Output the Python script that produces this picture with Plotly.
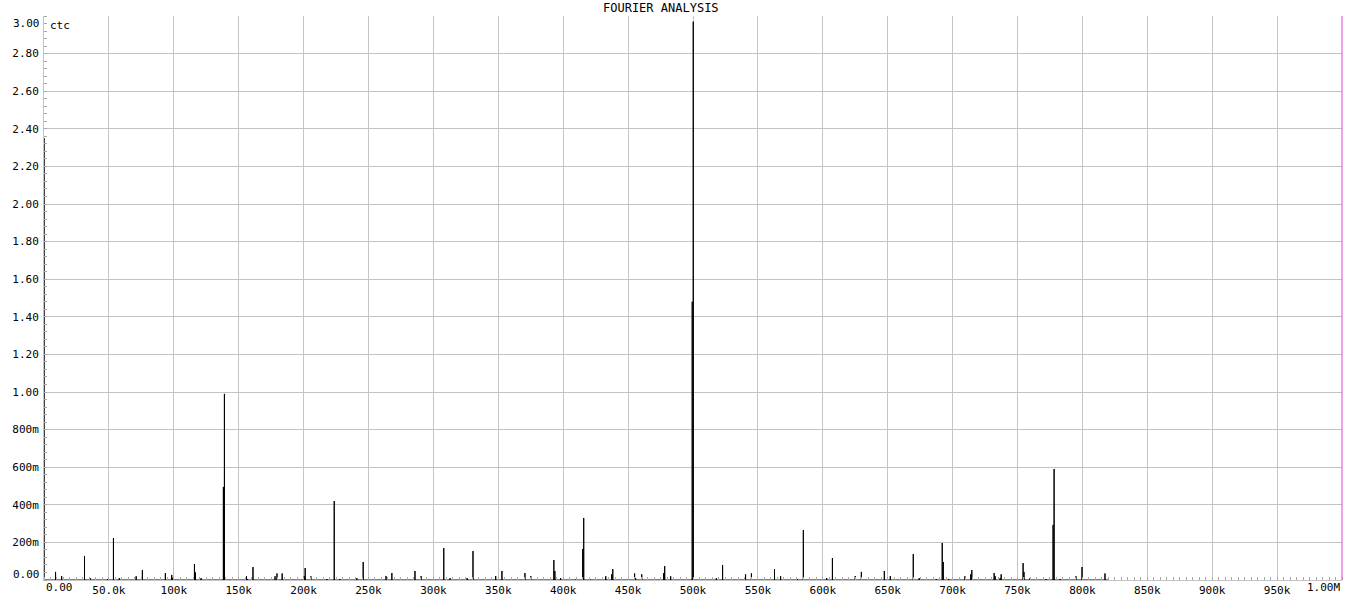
import plotly.graph_objects as go

# Spectral lines: frequency (kHz) and amplitude
freq_k = [0.0, 8.9, 13.6, 31.2, 35.6, 49.0, 53.5, 58.0, 71.0, 75.8, 93.5, 98.4, 99.2,
          115.9, 116.7, 121.0, 138.2, 139.0, 156.0, 156.8, 161.0, 178.0, 179.5, 183.5,
          200.5, 201.2, 205.6, 218.0, 223.6, 228.0, 241.0, 245.9, 263.5, 268.0, 285.8,
          290.5, 308.0, 312.8, 326.0, 330.5, 348.0, 352.8, 370.5, 375.0, 392.8, 393.6,
          398.0, 410.0, 415.0, 415.8, 420.5, 432.8, 437.4, 438.2, 455.0, 455.8, 460.5,
          477.4, 478.2, 482.8, 495.0, 499.4, 500.2, 505.0, 518.0, 522.8, 540.5, 545.0,
          562.8, 567.5, 580.5, 585.0, 603.0, 607.4, 625.0, 629.7, 647.4, 652.0, 669.7,
          674.3, 687.4, 692.0, 692.8, 697.0, 709.5, 714.0, 714.8, 732.0, 732.8, 736.6,
          737.4, 754.3, 755.0, 759.7, 772.0, 777.4, 778.2, 782.8, 795.0, 799.7, 817.4]
amplitude = [2.35, 0.043, 0.021, 0.128, 0.010, 0.005, 0.223, 0.010, 0.020, 0.053, 0.037, 0.027, 0.012,
             0.085, 0.040, 0.010, 0.495, 0.990, 0.020, 0.005, 0.069, 0.020, 0.035, 0.035,
             0.020, 0.064, 0.020, 0.005, 0.420, 0.005, 0.010, 0.096, 0.021, 0.037, 0.048,
             0.021, 0.170, 0.010, 0.010, 0.154, 0.021, 0.048, 0.037, 0.021, 0.106, 0.048,
             0.010, 0.005, 0.165, 0.330, 0.005, 0.020, 0.030, 0.058, 0.035, 0.010, 0.030,
             0.037, 0.074, 0.020, 0.005, 1.480, 2.970, 0.005, 0.010, 0.080, 0.030, 0.035,
             0.058, 0.020, 0.005, 0.266, 0.010, 0.117, 0.021, 0.043, 0.048, 0.021, 0.138,
             0.010, 0.005, 0.197, 0.096, 0.005, 0.020, 0.030, 0.053, 0.037, 0.020, 0.010,
             0.030, 0.090, 0.043, 0.010, 0.005, 0.293, 0.590, 0.005, 0.020, 0.069, 0.035]
last_bin_k = 820.0

x_tickvals_k = [i * 50 for i in range(21)]
x_ticktext = ["0.00", "50.0k", "100k", "150k", "200k", "250k", "300k", "350k", "400k",
              "450k", "500k", "550k", "600k", "650k", "700k", "750k", "800k", "850k",
              "900k", "950k", "1.00M"]
y_tickvals = [i * 0.2 for i in range(16)]
y_ticktext = ["0.00", "200m", "400m", "600m", "800m", "1.00", "1.20", "1.40", "1.60",
              "1.80", "2.00", "2.20", "2.40", "2.60", "2.80", "3.00"]

# Build impulse-style line (baseline with vertical spikes)
xs, ys = [], []
for f, a in zip(freq_k, amplitude):
    xs += [f * 1000, f * 1000, f * 1000]
    ys += [0, a, 0]
xs.append(last_bin_k * 1000)
ys.append(0)

FONT = "DejaVu Sans Mono"
GRID = "#c4c4c4"
TF = dict(family=FONT, size=11, color="black")

fig = go.Figure()
fig.add_trace(go.Scatter(x=xs, y=ys, mode="lines",
                         line=dict(color="black", width=1), hoverinfo="skip",
                         showlegend=False))

fig.update_layout(
    width=1351, height=597,
    margin=dict(l=44, r=9, t=16, b=17),
    paper_bgcolor="white", plot_bgcolor="white",
    font=TF, showlegend=False,
)
# end labels are placed as annotations (aligned inside the plot edges)
x_inner = [""] + x_ticktext[1:-1] + [""]
y_inner = [""] + y_ticktext[1:-1] + [""]
fig.update_xaxes(
    range=[0, 1000000], tickvals=[v * 1000 for v in x_tickvals_k], ticktext=x_inner,
    showgrid=True, gridcolor=GRID, gridwidth=1, zeroline=False,
    showline=True, linecolor=GRID, linewidth=1,
    ticks="", ticklabelstandoff=0, automargin=False, ticklabeloverflow="allow",
    minor=dict(dtick=5000, ticks="inside", ticklen=3, tickcolor="#a8a8a8", showgrid=False),
    tickfont=TF,
)
fig.update_yaxes(
    range=[0, 3.0], tickvals=y_tickvals, ticktext=y_inner,
    showgrid=True, gridcolor=GRID, gridwidth=1, zeroline=False,
    showline=True, linecolor=GRID, linewidth=1,
    ticks="", ticklabelstandoff=2, automargin=False, ticklabeloverflow="allow",
    minor=dict(dtick=0.04, ticks="inside", ticklen=3, tickcolor="#a8a8a8", showgrid=False),
    tickfont=TF,
)

# Right border (magenta cursor line)
fig.add_shape(type="line", xref="paper", yref="paper", x0=1, x1=1, y0=0, y1=1,
              line=dict(color="#e040e0", width=1))

# axis end labels
fig.add_annotation(text=x_ticktext[0], xref="paper", yref="paper", x=0, y=0,
                   xanchor="left", yanchor="top", showarrow=False, yshift=1, font=TF)
fig.add_annotation(text=x_ticktext[-1], xref="paper", yref="paper", x=1, y=0,
                   xanchor="right", yanchor="top", showarrow=False, yshift=1, font=TF)
fig.add_annotation(text=y_ticktext[0], xref="paper", yref="paper", x=0, y=0,
                   xanchor="right", yanchor="bottom", showarrow=False, xshift=-2, yshift=-3, font=TF)
fig.add_annotation(text=y_ticktext[-1], xref="paper", yref="paper", x=0, y=1,
                   xanchor="right", yanchor="top", showarrow=False, xshift=-2, yshift=1, font=TF)

fig.add_annotation(text="FOURIER ANALYSIS", xref="paper", yref="paper", x=0.475, y=1,
                   yanchor="top", xanchor="center", showarrow=False, yshift=16, borderpad=0,
                   font=dict(family=FONT, size=12, color="black"))
fig.add_annotation(text="ctc", xref="paper", yref="paper", x=0, y=1, xanchor="left",
                   yanchor="top", xshift=4, yshift=-1, showarrow=False, font=TF)

fig.write_html("out.html", config={"displayModeBar": False},
               post_script="document.body.style.margin='0';document.body.style.overflow='hidden';")
